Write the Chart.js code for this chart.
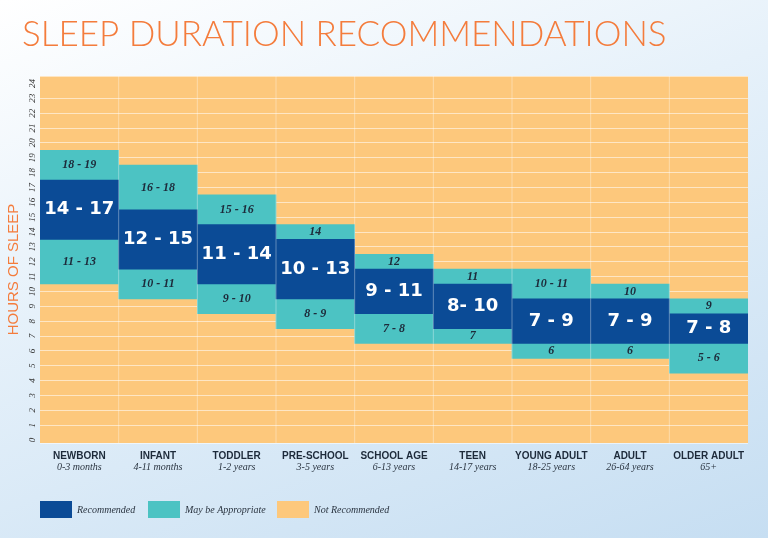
<!DOCTYPE html>
<html><head><meta charset="utf-8">
<script src="https://cdn.jsdelivr.net/npm/chart.js@4"></script>
<style>
html,body{margin:0;padding:0;}
body{width:768px;height:538px;background:linear-gradient(160deg,#ffffff 0%,#e6f1fa 40%,#c6def2 100%);overflow:hidden}
canvas{display:block}
</style></head><body>
<canvas id="c" width="768" height="538"></canvas>
<script>
const categories = ["NEWBORN","INFANT","TODDLER","PRE-SCHOOL","SCHOOL AGE","TEEN","YOUNG ADULT","ADULT","OLDER ADULT"];
const ages = ["0-3 months","4-11 months","1-2 years","3-5 years","6-13 years","14-17 years","18-25 years","26-64 years","65+"];
const appLo = [11,10,9,8,7,7,6,6,5];
const appHi = [19,18,16,14,12,11,11,10,9];
const recLo = [14,12,11,10,9,8,7,7,7];
const recHi = [17,15,14,13,11,10,9,9,8];
const hiLabels = ["18 - 19","16 - 18","15 - 16","14","12","11","10 - 11","10","9"];
const recLabels = ["14 - 17","12 - 15","11 - 14","10 - 13","9 - 11","8- 10","7 - 9","7 - 9","7 - 8"];
const loLabels = ["11 - 13","10 - 11","9 - 10","8 - 9","7 - 8","7","6","6","5 - 6"];
const yTicks = [0,1,2,3,4,5,6,7,8,9,10,11,12,13,14,15,16,17,18,19,20,21,22,23,24];

const ORANGE="#fdc87c", TEAL="#4cc3c3", DARK="#0b4b96", TITLE="#f47c3c";

const deco = {
  id:'deco',
  beforeDraw(ch){
    const {ctx,chartArea:a}=ch;
    ctx.save();ctx.fillStyle=ORANGE;ctx.fillRect(a.left,a.top,a.right-a.left,a.bottom-a.top);ctx.restore();
  },
  afterDatasetsDraw(ch){
    const {ctx,chartArea:a,scales:{x,y}}=ch;
    ctx.save();
    // vertical separators
    ctx.strokeStyle="rgba(255,255,255,0.35)";ctx.lineWidth=1;
    for(let i=1;i<categories.length;i++){const px=(x.getPixelForValue(i-1)+x.getPixelForValue(i))/2;ctx.beginPath();ctx.moveTo(px,a.top);ctx.lineTo(px,a.bottom);ctx.stroke();}
    ctx.textAlign="center";ctx.textBaseline="middle";
    categories.forEach((c,i)=>{
      const px=x.getPixelForValue(i);
      ctx.fillStyle="#1d2a3a";ctx.font="italic bold 12px 'Liberation Serif'";
      ctx.fillText(hiLabels[i],px,y.getPixelForValue((recHi[i]+appHi[i]+1)/2));
      ctx.fillText(loLabels[i],px,y.getPixelForValue((recLo[i]+appLo[i]-1)/2));
      ctx.fillStyle="#fff";ctx.font="bold 18px 'DejaVu Sans'";
      ctx.fillText(recLabels[i],px,y.getPixelForValue((recLo[i]+recHi[i])/2));
      ctx.fillStyle="#1d2a3a";ctx.font="bold 10px 'Liberation Sans Narrow','Liberation Sans'";
      ctx.fillText(c,px,a.bottom+13);
      ctx.font="italic 10px 'Liberation Serif'";ctx.fillStyle="#2a3440";
      ctx.fillText(ages[i],px,a.bottom+24);
    });
    // y ticks rotated
    ctx.font="italic 9px 'Liberation Serif'";ctx.fillStyle="#333";
    yTicks.forEach(t=>{const py=y.getPixelForValue(t);ctx.save();ctx.translate(33,py);ctx.rotate(-Math.PI/2);ctx.fillText(String(t),0,0);ctx.restore();});
    // y title
    ctx.save();ctx.translate(14,(a.top+a.bottom)/2+10);ctx.rotate(-Math.PI/2);ctx.fillStyle=TITLE;ctx.font="15px 'Liberation Sans'";ctx.fillText("HOURS OF SLEEP",0,0);ctx.restore();
    // title
    ctx.textAlign="left";ctx.font="300 35px 'Lato'";ctx.fillStyle=TITLE;ctx.fillText("SLEEP DURATION RECOMMENDATIONS",22,35);
    // legend
    const leg=[[DARK,"Recommended",40],[TEAL,"May be Appropriate",148],[ORANGE,"Not Recommended",277]];
    ctx.font="italic 10px 'Liberation Serif'";
    leg.forEach(([col,t,lx])=>{ctx.fillStyle=col;ctx.fillRect(lx,501,32,17);ctx.fillStyle="#2a3440";ctx.fillText(t,lx+37,510);});
    ctx.restore();
  }
};

new Chart(document.getElementById('c'),{
  type:'bar',
  data:{labels:categories,datasets:[
    {label:"Recommended",data:recLo.map((v,i)=>[v-0.5,recHi[i]+0.5]),backgroundColor:DARK,order:0,grouped:false,barPercentage:1,categoryPercentage:1},
    {label:"May be Appropriate",data:appLo.map((v,i)=>[v-0.5,appHi[i]+0.5]),backgroundColor:TEAL,order:1,grouped:false,barPercentage:1,categoryPercentage:1}
  ]},
  options:{responsive:false,animation:false,
    layout:{padding:{left:40,right:20,top:76,bottom:87}},
    plugins:{legend:{display:false},tooltip:{enabled:false}},
    scales:{
      x:{ticks:{display:false},grid:{display:false},border:{display:false}},
      y:{min:-0.2,max:24.5,ticks:{display:false,stepSize:1},grid:{color:"rgba(255,255,255,0.55)",drawTicks:false},border:{display:false}}
    }},
  plugins:[deco]
});
</script></body></html>
